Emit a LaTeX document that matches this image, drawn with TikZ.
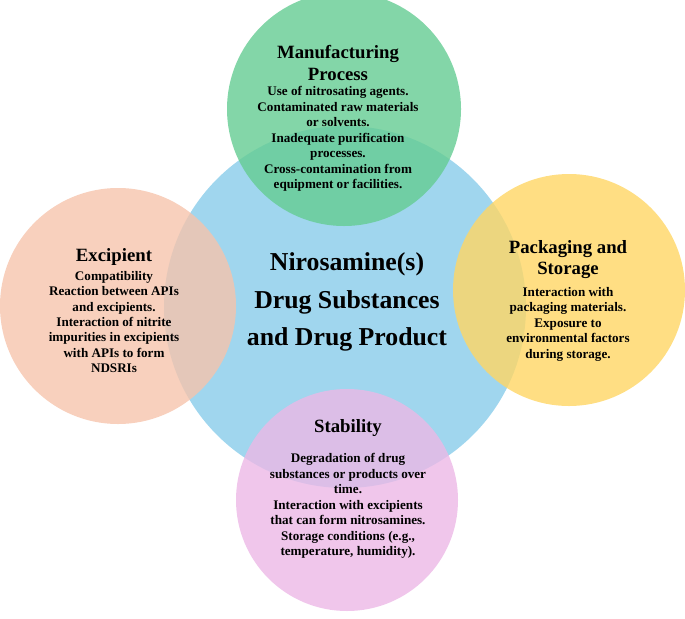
\documentclass[tikz,border=0pt]{standalone}
\usepackage{fontspec}
\setmainfont{Liberation Serif}
\begin{document}
\begin{tikzpicture}[x=0.03cm,y=-0.03cm,
 circ/.style={fill opacity=0.8,draw=none},
 body/.style={align=center,font=\bfseries\fontsize{11.2}{13.2}\selectfont,text opacity=1},
 head/.style={align=center,font=\bfseries\fontsize{16}{18}\selectfont}]
\useasboundingbox (0,0) rectangle (685,618);
\fill[fill={rgb,255:red,160;green,214;blue,238}] (345,307) circle (181);
\fill[circ,fill={rgb,255:red,100;green,204;blue,146}] (344,109) circle (117);
\fill[circ,fill={rgb,255:red,255;green,214;blue,100}] (569,290) circle (116);
\fill[circ,fill={rgb,255:red,246;green,196;blue,172}] (118,306) circle (118);
\fill[circ,fill={rgb,255:red,236;green,184;blue,230}] (347,500) circle (111);
\node[align=center,font=\bfseries\fontsize{22}{32}\selectfont] (c) at (347,302) {Nirosamine(s)\\Drug Substances\\and Drug Product};
\node[head] (mh) at (338,63) {Manufacturing\\Process};
\node[body] (mb) at (338,139) {Use of nitrosating agents.\\Contaminated raw materials\\or solvents.\\Inadequate purification\\processes.\\Cross-contamination from\\equipment or facilities.};
\node[head] (ph) at (568,260) {Packaging and\\Storage};
\node[body] (pb) at (568,324) {Interaction with\\packaging materials.\\Exposure to\\environmental factors\\during storage.};
\node[head] (eh) at (114,257) {Excipient};
\node[body] (eb) at (114,322) {Compatibility\\Reaction between APIs\\and excipients.\\Interaction of nitrite\\impurities in excipients\\with APIs to form\\NDSRIs};
\node[head] (sh) at (348,428) {Stability};
\node[body] (sb) at (348,506) {Degradation of drug\\substances or products over\\time.\\Interaction with excipients\\that can form nitrosamines.\\Storage conditions (e.g.,\\temperature, humidity).};
\end{tikzpicture}
\end{document}
